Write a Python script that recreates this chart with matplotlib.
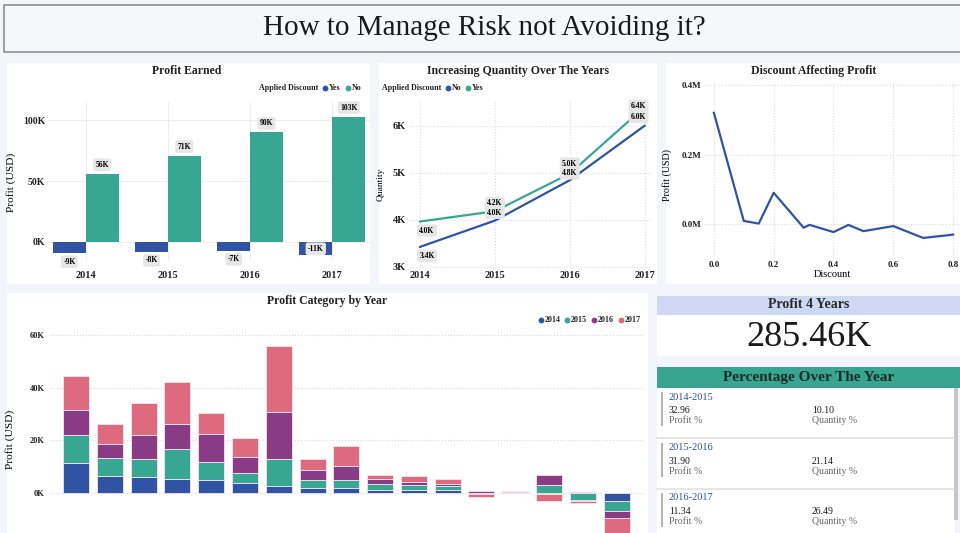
import numpy as np
import matplotlib.pyplot as plt
from matplotlib.patches import Rectangle

plt.rcParams['font.family'] = ['Liberation Serif', 'DejaVu Serif']
plt.rcParams['font.weight'] = 'bold'

W, H = 960, 533

# --- data ---
years = ['2014', '2015', '2016', '2017']
profit_disc = [-9, -8, -7, -11]          # K USD, discount applied
profit_no_disc = [56, 71, 90, 103]       # K USD, no discount
qty_no = [3.42, 3.98, 4.84, 6.0]         # K units
qty_yes = [3.96, 4.18, 4.98, 6.4]
discount_levels = [0.0, 0.1, 0.15, 0.2, 0.3, 0.32, 0.4, 0.45, 0.5, 0.6, 0.7, 0.8]
discount_profit = [0.321, 0.009, 0.0014, 0.0903, -0.0104, -0.0024, -0.0231,
                   -0.0025, -0.0205, -0.0059, -0.0401, -0.0305]  # M USD
categories = ['Phones', 'Chairs', 'Paper', 'Accessories', 'Binders', 'Storage',
              'Copiers', 'Furnishings', 'Appliances', 'Envelopes', 'Art', 'Labels',
              'Supplies', 'Fasteners', 'Machines', 'Bookcases', 'Tables']
cat_2014 = [11.5, 6.6, 6.0, 5.2, 4.9, 3.9, 2.8, 1.8, 1.8, 1.3, 1.1, 1.0, 0.2, 0.2, -0.3, 0.3, -3.0]
cat_2015 = [10.7, 6.7, 6.8, 11.4, 6.9, 3.6, 10.0, 3.1, 3.0, 2.0, 1.8, 1.5, -0.3, 0.2, 3.0, -2.6, -3.7]
cat_2016 = [9.4, 5.3, 9.1, 9.5, 10.6, 6.2, 17.9, 3.8, 5.4, 2.0, 1.3, 1.0, 0.4, 0.2, 3.7, -0.3, -2.8]
cat_2017 = [13.0, 7.5, 12.2, 16.0, 7.9, 7.3, 25.2, 4.3, 7.8, 1.7, 2.3, 1.9, -1.3, 0.3, -2.9, -0.8, -8.2]
total_profit = '285.46K'
periods = ['2014-2015', '2015-2016', '2016-2017']
profit_pct = [32.96, 31.90, 11.34]
qty_pct = [10.10, 21.14, 26.49]

BLUE = '#3053a4'
TEAL = '#37a792'
PURPLE = '#8a3b85'
PINK = '#dd6a7e'
LBLBOX = dict(boxstyle='round,pad=0.3', fc='#e6e6e6', ec='none')


def ax_at(x0, y0, x1, y1):
    # pixel box (top-left origin) -> figure axes
    a = fig.add_axes([x0 / W, 1 - y1 / H, (x1 - x0) / W, (y1 - y0) / H])
    a.set_facecolor('none')
    for s in a.spines.values():
        s.set_visible(False)
    a.tick_params(length=0, colors='#222222')
    return a


def legend_row(items, y, size=5.8):
    for x, txt, col in items:
        if col is None:
            bg.text(x, y, txt, fontsize=size, va='center', ha='left', color='#222222')
        else:
            bg.plot(x, y, 'o', ms=4.2, color=col, mec='none')
            bg.text(x + 4, y, txt, fontsize=size, va='center', ha='left', color='#222222')


fig = plt.figure(figsize=(9.6, 5.33), dpi=100, facecolor='#f3f5fa')
bg = fig.add_axes([0, 0, 1, 1])
bg.set_xlim(0, W)
bg.set_ylim(H, 0)
bg.axis('off')

# title bar
bg.add_patch(Rectangle((4, 5), 970, 47, fc='#f6f7fb', ec='#8f8f8f', lw=1.2))
bg.text(484, 28, 'How to Manage Risk not Avoiding it?', fontsize=21,
        fontweight='normal', ha='center', va='center', color='#1a1a1a')

# white panels
for x, y, w, h in [(7, 63, 363, 221), (379, 63, 278, 221), (666, 63, 300, 221),
                   (7, 293, 641, 245)]:
    bg.add_patch(Rectangle((x, y), w, h, fc='white', ec='none'))

# --- Profit Earned ---
bg.text(187, 71, 'Profit Earned', fontsize=8.5, ha='center', va='center', color='#222222')
legend_row([(259, 'Applied Discount', None), (325, 'Yes', BLUE), (348, 'No', TEAL)], 88)
ax1 = ax_at(48, 102, 370, 260)
x = np.arange(len(years))
ax1.bar(x - 0.2, profit_disc, 0.4, color=BLUE, zorder=2)
ax1.bar(x + 0.2, profit_no_disc, 0.4, color=TEAL, zorder=2)
ax1.set_xlim(-0.46, 3.46)
ax1.set_ylim(-14.8, 115)
ax1.set_yticks([0, 50, 100], ['0K', '50K', '100K'], fontsize=7)
ax1.set_xticks(x, years, fontsize=7.5)
ax1.tick_params(axis='x', pad=8)
ax1.tick_params(axis='y', pad=2)
ax1.grid(True, color='#ededed', lw=0.8, zorder=0)
ax1.set_ylabel('Profit (USD)', fontsize=8.2)
ax1.yaxis.set_label_coords(-0.1, 0.49)
for xi, v in zip(x, profit_no_disc):
    ax1.annotate(f'{v}K', (xi + 0.2, v), xytext=(0, 6.5), textcoords='offset points',
                 ha='center', va='center', fontsize=5.5, bbox=LBLBOX, zorder=3)
for xi, v in zip(x, profit_disc):
    off = 4.8 if v < -10 else -6.3
    ax1.annotate(f'{v}K', (xi - 0.2, v), xytext=(0, off), textcoords='offset points',
                 ha='center', va='center', fontsize=5.5, bbox=LBLBOX, zorder=3,
                 annotation_clip=False)

# --- Increasing Quantity ---
bg.text(518, 71, 'Increasing Quantity Over The Years', fontsize=8.5, ha='center',
        va='center', color='#222222')
legend_row([(382, 'Applied Discount', None), (448, 'No', BLUE), (468, 'Yes', TEAL)], 88)
ax2 = ax_at(410, 100, 652, 268)
ax2.plot(x, qty_yes, color=TEAL, lw=1.6, zorder=2)
ax2.plot(x, qty_no, color=BLUE, lw=1.6, zorder=2)
ax2.set_xlim(-0.134, 3.1)
ax2.set_ylim(2.97, 6.55)
ax2.set_yticks([3, 4, 5, 6], ['3K', '4K', '5K', '6K'], fontsize=7.5)
ax2.set_xticks(x, years, fontsize=7.5)
ax2.tick_params(axis='x', pad=2)
ax2.tick_params(axis='y', pad=3)
ax2.grid(True, color='#dcdcdc', lw=0.8, ls=':', zorder=0)
ax2.set_ylabel('Quantity', fontsize=6.8, labelpad=2)
ax2.yaxis.set_label_coords(-0.104, 0.5)
teal_off = [(7, -9), (0, 8), (0, 10), (-6, 1)]
blue_off = [(7, -9), (0, 8), (0, 7), (-6, 9)]
for vals, offs in [(qty_yes, teal_off), (qty_no, blue_off)]:
    for xi, v, (dx, dy) in zip(x, vals, offs):
        ax2.annotate(f'{v:.1f}K', (xi, v), xytext=(dx * 0.72, dy * 0.72),
                     textcoords='offset points', ha='center', va='center',
                     fontsize=5.5, bbox=LBLBOX, zorder=3, annotation_clip=False)

# --- Discount Affecting Profit ---
bg.text(814, 71, 'Discount Affecting Profit', fontsize=8.5, ha='center', va='center',
        color='#222222')
ax3 = ax_at(704, 82, 960, 258)
ax3.plot(discount_levels, discount_profit, color=BLUE, lw=1.6, zorder=2)
ax3.set_xlim(-0.033, 0.823)
ax3.set_ylim(-0.098, 0.41)
ax3.set_yticks([0, 0.2, 0.4], ['0.0M', '0.2M', '0.4M'], fontsize=6.5)
ax3.set_xticks([0, 0.2, 0.4, 0.6, 0.8], ['0.0', '0.2', '0.4', '0.6', '0.8'], fontsize=6.5)
ax3.tick_params(axis='x', pad=2)
ax3.tick_params(axis='y', pad=2)
ax3.grid(True, color='#dcdcdc', lw=0.8, ls=':', zorder=0)
ax3.set_xlabel('Discount', fontsize=7.5, labelpad=1)
ax3.set_ylabel('Profit (USD)', fontsize=7.2)
ax3.yaxis.set_label_coords(-0.124, 0.47)

# --- Profit Category by Year ---
bg.text(327, 301, 'Profit Category by Year', fontsize=8.5, ha='center', va='center',
        color='#222222')
legend_row([(541, '2014', BLUE), (567, '2015', TEAL), (594, '2016', PURPLE),
            (621, '2017', PINK)], 320)
ax4 = ax_at(50, 330, 645, 533)
cx = np.arange(len(categories))
pos_base = np.zeros(len(categories))
neg_base = np.zeros(len(categories))
for vals, col in [(cat_2014, BLUE), (cat_2015, TEAL), (cat_2016, PURPLE), (cat_2017, PINK)]:
    v = np.array(vals)
    base = np.where(v >= 0, pos_base, neg_base)
    ax4.bar(cx, v, 0.77, bottom=base, color=col, edgecolor='#f7e6ee', lw=0.6, zorder=2)
    pos_base = pos_base + np.clip(v, 0, None)
    neg_base = neg_base + np.clip(v, None, 0)
ax4.set_xlim(-0.77, 16.84)
ax4.set_ylim(-15.2, 62)
ax4.set_xticks([])
ax4.set_yticks([0, 20, 40, 60], ['0K', '20K', '40K', '60K'], fontsize=6)
ax4.tick_params(axis='y', pad=4)
ax4.grid(True, axis='y', color='#d9d9d9', lw=0.8, ls=':', zorder=0)
ax4.set_ylabel('Profit (USD)', fontsize=8.2)
ax4.yaxis.set_label_coords(-0.059, 0.46)

# --- KPI card ---
bg.add_patch(Rectangle((657, 296), 303, 19, fc='#cdd8f4', ec='none'))
bg.add_patch(Rectangle((657, 315), 303, 41, fc='white', ec='none'))
bg.text(809, 305, 'Profit 4 Years', fontsize=10, ha='center', va='center', color='#2a2a2a')
bg.text(809, 338, total_profit, fontsize=26, fontweight='normal', ha='center',
        va='center', color='#1a1a1a')

# --- Percentage Over The Year ---
bg.add_patch(Rectangle((657, 367), 303, 21, fc='#38a58f', ec='none'))
bg.text(809, 378, 'Percentage Over The Year', fontsize=11, ha='center', va='center',
        color='#1d2b29')
bg.add_patch(Rectangle((657, 388), 298, 150, fc='white', ec='none'))
bg.add_patch(Rectangle((954, 388), 4, 132, fc='#c6c6c6', ec='none'))
for i, (p, pp, qp) in enumerate(zip(periods, profit_pct, qty_pct)):
    y0 = 392 + i * 50.5
    bg.add_patch(Rectangle((660.5, y0), 2, 34, fc='#b3b3b3', ec='none'))
    bg.text(669, y0 + 5, p, fontsize=7.5, fontweight='normal', color='#2f4f9a',
            ha='left', va='center')
    bg.text(669, y0 + 18.5, f'{pp:.2f}', fontsize=7, fontweight='normal',
            color='#1a1a1a', ha='left', va='center')
    bg.text(669, y0 + 28.5, 'Profit %', fontsize=7, fontweight='normal',
            color='#666666', ha='left', va='center')
    bg.text(812, y0 + 18.5, f'{qp:.2f}', fontsize=7, fontweight='normal',
            color='#1a1a1a', ha='left', va='center')
    bg.text(812, y0 + 28.5, 'Quantity %', fontsize=7, fontweight='normal',
            color='#666666', ha='left', va='center')
    if i < 2:
        bg.plot([657, 954], [y0 + 46, y0 + 46], color='#e2e2e2', lw=1.2)

fig.savefig('out.png', dpi=100, facecolor=fig.get_facecolor())
